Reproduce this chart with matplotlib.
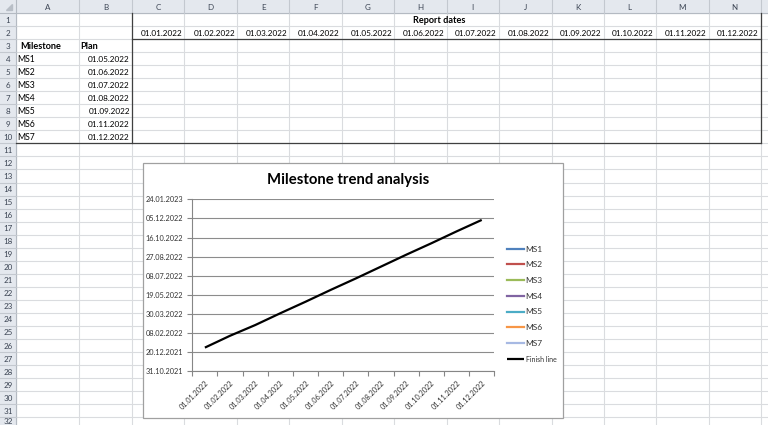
import datetime as dt
import matplotlib
matplotlib.use("Agg")
import matplotlib.pyplot as plt
import matplotlib.dates as mdates
from matplotlib.patches import Rectangle, Polygon

plt.rcParams['font.family'] = ['Lato', 'DejaVu Sans']

# spreadsheet content
col_letters = list("ABCDEFGHIJKLMN")
milestones = ["MS1", "MS2", "MS3", "MS4", "MS5", "MS6", "MS7"]
plan_dates = ["01.05.2022", "01.06.2022", "01.07.2022", "01.08.2022",
              "01.09.2022", "01.11.2022", "01.12.2022"]
report_dates = ["01.01.2022", "01.02.2022", "01.03.2022", "01.04.2022",
                "01.05.2022", "01.06.2022", "01.07.2022", "01.08.2022",
                "01.09.2022", "01.10.2022", "01.11.2022", "01.12.2022"]
# milestone rows are still empty (no reported forecasts yet)
ms_forecasts = {m: [None] * len(report_dates) for m in milestones}
ms_colors = ["#4F81BD", "#C0504D", "#9BBB59", "#8064A2",
             "#4BACC6", "#F79646", "#A7B9E3"]

# y axis of the chart
y_start = dt.date(2021, 10, 31)
y_step = 50
y_steps = 9

W, H = 768, 425
fig = plt.figure(figsize=(W / 100, H / 100), dpi=100)
bg = fig.add_axes([0, 0, 1, 1])
bg.set_xlim(0, W)
bg.set_ylim(H, 0)
bg.axis('off')

# sheet geometry (pixels)
col_x = [16, 79, 132, 184.3, 237, 289.3, 341.7, 394.3, 446.7, 498.7,
         551.7, 603.7, 655.7, 708.7, 760.5]
hdr_h = 13
row_h = 13.04
n_rows = 32


def row_top(r):
    return hdr_h + (r - 1) * row_h


def row_mid(r):
    return row_top(r) + row_h / 2 + 0.5


# headers
bg.add_patch(Rectangle((0, 0), W, hdr_h, color="#E4E8EE", zorder=0))
bg.add_patch(Rectangle((0, 0), col_x[0], H, color="#E4E8EE", zorder=0))
bg.add_patch(Polygon([[12, 4], [12, 10], [6, 10]], color="#B8BEC6", zorder=1))
bg.plot([0, W], [hdr_h, hdr_h], color="#B4BAC2", lw=0.8, zorder=1)
bg.plot([col_x[0], col_x[0]], [0, H], color="#B4BAC2", lw=0.8, zorder=1)

# grid
for x in col_x[1:]:
    bg.plot([x, x], [hdr_h, H], color="#DADCDF", lw=0.8, zorder=0.5)
    bg.plot([x, x], [0, hdr_h], color="#C3C8CF", lw=0.8, zorder=1)
for r in range(1, n_rows + 1):
    y = row_top(r) + row_h
    bg.plot([col_x[0], W], [y, y], color="#DADCDF", lw=0.8, zorder=0.5)
    bg.plot([0, col_x[0]], [y, y], color="#C3C8CF", lw=0.8, zorder=1)

for i, c in enumerate(col_letters):
    bg.text((col_x[i] + col_x[i + 1]) / 2, hdr_h / 2 + 0.5, c, fontsize=5.8,
            color="#3B4453", ha='center', va='center')
for r in range(1, n_rows + 1):
    bg.text(col_x[0] / 2, min(row_mid(r), H - 4), str(r), fontsize=5.8,
            color="#3B4453", ha='center', va='center')

# cell values
fs = 5.9
fsb = 6.6
bg.text(439, row_mid(1), "Report dates", fontsize=fsb, fontweight='bold',
        ha='center', va='center')
for i, d in enumerate(report_dates):
    bg.text(col_x[i + 3] - 2, row_mid(2), d, fontsize=fs, ha='right', va='center')
bg.text(col_x[0] + 4, row_mid(3), "Milestone", fontsize=fsb, fontweight='bold',
        ha='left', va='center')
bg.text(col_x[1] + 1.5, row_mid(3), "Plan", fontsize=fsb, fontweight='bold',
        ha='left', va='center')
for i, (m, p) in enumerate(zip(milestones, plan_dates)):
    bg.text(col_x[0] + 1.5, row_mid(4 + i), m, fontsize=fs + 0.3, ha='left', va='center')
    bg.text(col_x[2] - 2, row_mid(4 + i), p, fontsize=fs, ha='right', va='center')

# table borders
bdr = dict(color="#404040", lw=0.9, zorder=2)
bg.plot([col_x[2], col_x[2]], [row_top(1), row_top(11)], **bdr)
bg.plot([col_x[-1], col_x[-1]], [row_top(1), row_top(11)], **bdr)
bg.plot([col_x[2], col_x[-1]], [row_top(3), row_top(3)], **bdr)
bg.plot([col_x[0], col_x[-1]], [row_top(11), row_top(11)], **bdr)

# chart area
bg.add_patch(Rectangle((143, 163), 420, 255, facecolor="white",
                       edgecolor="#A0A0A0", lw=0.9, zorder=3))
bg.text(348.5, 179.5, "Milestone trend analysis", fontsize=10.7, fontweight='bold',
        ha='center', va='center', zorder=4)

px_l, px_r, px_t, px_b = 192.3, 494.3, 199.3, 371.3
ax = fig.add_axes([px_l / W, (H - px_b) / H, (px_r - px_l) / W, (px_b - px_t) / H])
ax.patch.set_alpha(0)

x = list(range(len(report_dates)))
finish = [mdates.date2num(dt.datetime.strptime(d, "%d.%m.%Y")) for d in report_dates]
for m, c in zip(milestones, ms_colors):
    vals = [float('nan') if v is None else v for v in ms_forecasts[m]]
    ax.plot(x, vals, color=c, lw=1.6, label=m)
ax.plot(x, finish, color="black", lw=1.6, label="Finish line", solid_capstyle='butt')

y0 = mdates.date2num(y_start)
ax.set_ylim(y0, y0 + y_step * y_steps)
ax.set_yticks([y0 + y_step * k for k in range(y_steps + 1)])
ax.yaxis.set_major_formatter(mdates.DateFormatter("%d.%m.%Y"))
ax.set_xlim(-0.5, len(report_dates) - 0.5)
ax.set_xticks(x)
ax.set_xticklabels(report_dates, rotation=45, ha='right', va='top',
                   rotation_mode='anchor')
ax.set_xticks([k - 0.5 for k in range(len(report_dates) + 1)], minor=True)
ax.tick_params(axis='x', which='major', length=0, pad=6, labelsize=5.3,
               labelcolor="#333333")
ax.tick_params(axis='x', which='minor', length=3.5, width=0.8, color="#868686")
ax.tick_params(axis='y', length=3.5, width=0.8, color="#868686", pad=3,
               labelsize=5.3, labelcolor="#333333")
ax.grid(axis='y', color="#8C8C8C", lw=0.8)
for s in ['top', 'right']:
    ax.spines[s].set_visible(False)
for s in ['left', 'bottom']:
    ax.spines[s].set_color("#868686")
    ax.spines[s].set_linewidth(0.8)

leg = ax.legend(loc='upper left', bbox_to_anchor=(507 / W, (H - 245.5) / H),
                bbox_transform=fig.transFigure, frameon=False, fontsize=6,
                handlelength=2.0, handletextpad=0.25, labelspacing=1.05,
                borderpad=0, borderaxespad=0)
for t in leg.get_texts():
    t.set_color("#333333")
leg.get_texts()[-1].set_fontsize(5.0)
for ln in leg.get_lines():
    ln.set_linewidth(1.6)

fig.savefig("out.png", dpi=100)
